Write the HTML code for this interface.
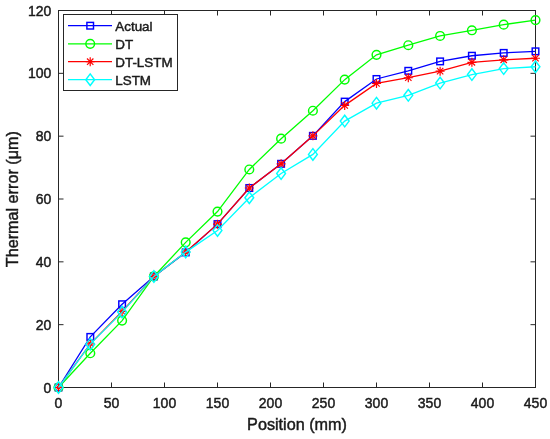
<!DOCTYPE html>
<html><head><meta charset="utf-8"><style>html,body{margin:0;padding:0;background:#fff;}svg{display:block;}</style></head>
<body>
<svg width="550" height="439" viewBox="0 0 550 439">
<rect width="550" height="439" fill="#fff"/>
<path d="M58.50 387.5V382.5M58.50 10.5V15.5M111.50 387.5V382.5M111.50 10.5V15.5M164.50 387.5V382.5M164.50 10.5V15.5M217.50 387.5V382.5M217.50 10.5V15.5M270.50 387.5V382.5M270.50 10.5V15.5M323.50 387.5V382.5M323.50 10.5V15.5M376.50 387.5V382.5M376.50 10.5V15.5M429.50 387.5V382.5M429.50 10.5V15.5M482.50 387.5V382.5M482.50 10.5V15.5M535.50 387.5V382.5M535.50 10.5V15.5M58.5 387.50H63.5M535.5 387.50H530.5M58.5 324.67H63.5M535.5 324.67H530.5M58.5 261.83H63.5M535.5 261.83H530.5M58.5 199.00H63.5M535.5 199.00H530.5M58.5 136.17H63.5M535.5 136.17H530.5M58.5 73.33H63.5M535.5 73.33H530.5M58.5 10.50H63.5M535.5 10.50H530.5" stroke="#262626" stroke-width="1" fill="none"/>
<rect x="58.5" y="10.5" width="477.0" height="377.0" fill="none" stroke="#262626" stroke-width="1"/>
<polyline points="58.50,387.50 90.30,336.92 122.10,304.25 153.90,276.44 185.70,252.41 217.50,224.13 249.30,188.00 281.10,163.81 312.90,135.85 344.70,101.61 376.50,78.99 408.30,70.82 440.10,61.40 471.90,55.74 503.70,52.91 535.50,51.34" fill="none" stroke="#0000ff" stroke-width="1.3"/>
<rect x="55.20" y="384.20" width="6.60" height="6.60" fill="none" stroke="#0000ff" stroke-width="1.45"/>
<rect x="87.00" y="333.62" width="6.60" height="6.60" fill="none" stroke="#0000ff" stroke-width="1.45"/>
<rect x="118.80" y="300.95" width="6.60" height="6.60" fill="none" stroke="#0000ff" stroke-width="1.45"/>
<rect x="150.60" y="273.14" width="6.60" height="6.60" fill="none" stroke="#0000ff" stroke-width="1.45"/>
<rect x="182.40" y="249.11" width="6.60" height="6.60" fill="none" stroke="#0000ff" stroke-width="1.45"/>
<rect x="214.20" y="220.83" width="6.60" height="6.60" fill="none" stroke="#0000ff" stroke-width="1.45"/>
<rect x="246.00" y="184.70" width="6.60" height="6.60" fill="none" stroke="#0000ff" stroke-width="1.45"/>
<rect x="277.80" y="160.51" width="6.60" height="6.60" fill="none" stroke="#0000ff" stroke-width="1.45"/>
<rect x="309.60" y="132.55" width="6.60" height="6.60" fill="none" stroke="#0000ff" stroke-width="1.45"/>
<rect x="341.40" y="98.31" width="6.60" height="6.60" fill="none" stroke="#0000ff" stroke-width="1.45"/>
<rect x="373.20" y="75.69" width="6.60" height="6.60" fill="none" stroke="#0000ff" stroke-width="1.45"/>
<rect x="405.00" y="67.52" width="6.60" height="6.60" fill="none" stroke="#0000ff" stroke-width="1.45"/>
<rect x="436.80" y="58.10" width="6.60" height="6.60" fill="none" stroke="#0000ff" stroke-width="1.45"/>
<rect x="468.60" y="52.44" width="6.60" height="6.60" fill="none" stroke="#0000ff" stroke-width="1.45"/>
<rect x="500.40" y="49.61" width="6.60" height="6.60" fill="none" stroke="#0000ff" stroke-width="1.45"/>
<rect x="532.20" y="48.04" width="6.60" height="6.60" fill="none" stroke="#0000ff" stroke-width="1.45"/>
<polyline points="58.50,387.50 90.30,353.26 122.10,320.58 153.90,276.44 185.70,242.35 217.50,211.57 249.30,169.47 281.10,138.68 312.90,110.72 344.70,79.62 376.50,54.80 408.30,45.22 440.10,35.95 471.90,30.29 503.70,24.64 535.50,20.08" fill="none" stroke="#00ff00" stroke-width="1.3"/>
<circle cx="58.50" cy="387.50" r="4.35" fill="none" stroke="#00ff00" stroke-width="1.45"/>
<circle cx="90.30" cy="353.26" r="4.35" fill="none" stroke="#00ff00" stroke-width="1.45"/>
<circle cx="122.10" cy="320.58" r="4.35" fill="none" stroke="#00ff00" stroke-width="1.45"/>
<circle cx="153.90" cy="276.44" r="4.35" fill="none" stroke="#00ff00" stroke-width="1.45"/>
<circle cx="185.70" cy="242.35" r="4.35" fill="none" stroke="#00ff00" stroke-width="1.45"/>
<circle cx="217.50" cy="211.57" r="4.35" fill="none" stroke="#00ff00" stroke-width="1.45"/>
<circle cx="249.30" cy="169.47" r="4.35" fill="none" stroke="#00ff00" stroke-width="1.45"/>
<circle cx="281.10" cy="138.68" r="4.35" fill="none" stroke="#00ff00" stroke-width="1.45"/>
<circle cx="312.90" cy="110.72" r="4.35" fill="none" stroke="#00ff00" stroke-width="1.45"/>
<circle cx="344.70" cy="79.62" r="4.35" fill="none" stroke="#00ff00" stroke-width="1.45"/>
<circle cx="376.50" cy="54.80" r="4.35" fill="none" stroke="#00ff00" stroke-width="1.45"/>
<circle cx="408.30" cy="45.22" r="4.35" fill="none" stroke="#00ff00" stroke-width="1.45"/>
<circle cx="440.10" cy="35.95" r="4.35" fill="none" stroke="#00ff00" stroke-width="1.45"/>
<circle cx="471.90" cy="30.29" r="4.35" fill="none" stroke="#00ff00" stroke-width="1.45"/>
<circle cx="503.70" cy="24.64" r="4.35" fill="none" stroke="#00ff00" stroke-width="1.45"/>
<circle cx="535.50" cy="20.08" r="4.35" fill="none" stroke="#00ff00" stroke-width="1.45"/>
<polyline points="58.50,387.50 90.30,343.83 122.10,311.47 153.90,276.44 185.70,252.09 217.50,224.13 249.30,188.00 281.10,163.81 312.90,135.85 344.70,105.38 376.50,83.39 408.30,77.73 440.10,71.13 471.90,62.34 503.70,59.82 535.50,58.25" fill="none" stroke="#ff0000" stroke-width="1.3"/>
<path d="M58.50 383.00V392.00M54.00 387.50H63.00M55.30 384.30L61.70 390.70M55.30 390.70L61.70 384.30" fill="none" stroke="#ff0000" stroke-width="1.2"/>
<path d="M90.30 339.33V348.33M85.80 343.83H94.80M87.10 340.63L93.50 347.03M87.10 347.03L93.50 340.63" fill="none" stroke="#ff0000" stroke-width="1.2"/>
<path d="M122.10 306.97V315.97M117.60 311.47H126.60M118.90 308.27L125.30 314.67M118.90 314.67L125.30 308.27" fill="none" stroke="#ff0000" stroke-width="1.2"/>
<path d="M153.90 271.94V280.94M149.40 276.44H158.40M150.70 273.24L157.10 279.64M150.70 279.64L157.10 273.24" fill="none" stroke="#ff0000" stroke-width="1.2"/>
<path d="M185.70 247.59V256.59M181.20 252.09H190.20M182.50 248.89L188.90 255.29M182.50 255.29L188.90 248.89" fill="none" stroke="#ff0000" stroke-width="1.2"/>
<path d="M217.50 219.63V228.63M213.00 224.13H222.00M214.30 220.93L220.70 227.33M214.30 227.33L220.70 220.93" fill="none" stroke="#ff0000" stroke-width="1.2"/>
<path d="M249.30 183.50V192.50M244.80 188.00H253.80M246.10 184.80L252.50 191.20M246.10 191.20L252.50 184.80" fill="none" stroke="#ff0000" stroke-width="1.2"/>
<path d="M281.10 159.31V168.31M276.60 163.81H285.60M277.90 160.61L284.30 167.01M277.90 167.01L284.30 160.61" fill="none" stroke="#ff0000" stroke-width="1.2"/>
<path d="M312.90 131.35V140.35M308.40 135.85H317.40M309.70 132.65L316.10 139.05M309.70 139.05L316.10 132.65" fill="none" stroke="#ff0000" stroke-width="1.2"/>
<path d="M344.70 100.88V109.88M340.20 105.38H349.20M341.50 102.18L347.90 108.58M341.50 108.58L347.90 102.18" fill="none" stroke="#ff0000" stroke-width="1.2"/>
<path d="M376.50 78.89V87.89M372.00 83.39H381.00M373.30 80.19L379.70 86.59M373.30 86.59L379.70 80.19" fill="none" stroke="#ff0000" stroke-width="1.2"/>
<path d="M408.30 73.23V82.23M403.80 77.73H412.80M405.10 74.53L411.50 80.93M405.10 80.93L411.50 74.53" fill="none" stroke="#ff0000" stroke-width="1.2"/>
<path d="M440.10 66.63V75.63M435.60 71.13H444.60M436.90 67.93L443.30 74.33M436.90 74.33L443.30 67.93" fill="none" stroke="#ff0000" stroke-width="1.2"/>
<path d="M471.90 57.84V66.84M467.40 62.34H476.40M468.70 59.14L475.10 65.54M468.70 65.54L475.10 59.14" fill="none" stroke="#ff0000" stroke-width="1.2"/>
<path d="M503.70 55.32V64.32M499.20 59.82H508.20M500.50 56.62L506.90 63.02M500.50 63.02L506.90 56.62" fill="none" stroke="#ff0000" stroke-width="1.2"/>
<path d="M535.50 53.75V62.75M531.00 58.25H540.00M532.30 55.05L538.70 61.45M532.30 61.45L538.70 55.05" fill="none" stroke="#ff0000" stroke-width="1.2"/>
<polyline points="58.50,387.50 90.30,344.14 122.10,312.10 153.90,276.44 185.70,252.09 217.50,230.42 249.30,197.74 281.10,173.55 312.90,154.39 344.70,121.09 376.50,103.18 408.30,95.32 440.10,83.07 471.90,74.59 503.70,68.62 535.50,66.74" fill="none" stroke="#00ffff" stroke-width="1.3"/>
<path d="M58.50 381.70L62.90 387.50L58.50 393.30L54.10 387.50Z" fill="none" stroke="#00ffff" stroke-width="1.45"/>
<path d="M90.30 338.34L94.70 344.14L90.30 349.94L85.90 344.14Z" fill="none" stroke="#00ffff" stroke-width="1.45"/>
<path d="M122.10 306.30L126.50 312.10L122.10 317.90L117.70 312.10Z" fill="none" stroke="#00ffff" stroke-width="1.45"/>
<path d="M153.90 270.64L158.30 276.44L153.90 282.24L149.50 276.44Z" fill="none" stroke="#00ffff" stroke-width="1.45"/>
<path d="M185.70 246.29L190.10 252.09L185.70 257.89L181.30 252.09Z" fill="none" stroke="#00ffff" stroke-width="1.45"/>
<path d="M217.50 224.62L221.90 230.42L217.50 236.22L213.10 230.42Z" fill="none" stroke="#00ffff" stroke-width="1.45"/>
<path d="M249.30 191.94L253.70 197.74L249.30 203.54L244.90 197.74Z" fill="none" stroke="#00ffff" stroke-width="1.45"/>
<path d="M281.10 167.75L285.50 173.55L281.10 179.35L276.70 173.55Z" fill="none" stroke="#00ffff" stroke-width="1.45"/>
<path d="M312.90 148.59L317.30 154.39L312.90 160.19L308.50 154.39Z" fill="none" stroke="#00ffff" stroke-width="1.45"/>
<path d="M344.70 115.29L349.10 121.09L344.70 126.89L340.30 121.09Z" fill="none" stroke="#00ffff" stroke-width="1.45"/>
<path d="M376.50 97.38L380.90 103.18L376.50 108.98L372.10 103.18Z" fill="none" stroke="#00ffff" stroke-width="1.45"/>
<path d="M408.30 89.52L412.70 95.32L408.30 101.12L403.90 95.32Z" fill="none" stroke="#00ffff" stroke-width="1.45"/>
<path d="M440.10 77.27L444.50 83.07L440.10 88.87L435.70 83.07Z" fill="none" stroke="#00ffff" stroke-width="1.45"/>
<path d="M471.90 68.79L476.30 74.59L471.90 80.39L467.50 74.59Z" fill="none" stroke="#00ffff" stroke-width="1.45"/>
<path d="M503.70 62.82L508.10 68.62L503.70 74.42L499.30 68.62Z" fill="none" stroke="#00ffff" stroke-width="1.45"/>
<path d="M535.50 60.94L539.90 66.74L535.50 72.54L531.10 66.74Z" fill="none" stroke="#00ffff" stroke-width="1.45"/>
<g font-family="Liberation Sans, Arial, sans-serif" font-size="14" fill="#1a1a1a" stroke="#1a1a1a" stroke-width="0.45"><text x="58.50" y="408" text-anchor="middle">0</text><text x="111.50" y="408" text-anchor="middle">50</text><text x="164.50" y="408" text-anchor="middle">100</text><text x="217.50" y="408" text-anchor="middle">150</text><text x="270.50" y="408" text-anchor="middle">200</text><text x="323.50" y="408" text-anchor="middle">250</text><text x="376.50" y="408" text-anchor="middle">300</text><text x="429.50" y="408" text-anchor="middle">350</text><text x="482.50" y="408" text-anchor="middle">400</text><text x="535.50" y="408" text-anchor="middle">450</text><text x="51.3" y="392.50" text-anchor="end">0</text><text x="51.3" y="329.67" text-anchor="end">20</text><text x="51.3" y="266.83" text-anchor="end">40</text><text x="51.3" y="204.00" text-anchor="end">60</text><text x="51.3" y="141.17" text-anchor="end">80</text><text x="51.3" y="78.33" text-anchor="end">100</text><text x="51.3" y="15.50" text-anchor="end">120</text></g>
<text x="297" y="429.5" text-anchor="middle" font-family="Liberation Sans, Arial, sans-serif" font-size="16.2" fill="#1a1a1a" stroke="#1a1a1a" stroke-width="0.45">Position (mm)</text>
<text transform="translate(18 199.2) rotate(-90)" text-anchor="middle" font-family="Liberation Sans, Arial, sans-serif" font-size="16.2" fill="#1a1a1a" stroke="#1a1a1a" stroke-width="0.45">Thermal error (μm)</text>
<rect x="63.5" y="14.5" width="114.0" height="76.0" fill="#fff" stroke="#262626" stroke-width="1"/>
<path d="M68 25.7H112" stroke="#0000ff" stroke-width="1.3"/>
<rect x="86.90" y="22.40" width="6.60" height="6.60" fill="none" stroke="#0000ff" stroke-width="1.45"/>
<text x="115.3" y="30.70" font-family="Liberation Sans, Arial, sans-serif" font-size="13.4" fill="#1a1a1a" stroke="#1a1a1a" stroke-width="0.45">Actual</text>
<path d="M68 43.8H112" stroke="#00ff00" stroke-width="1.3"/>
<circle cx="90.20" cy="43.80" r="4.35" fill="none" stroke="#00ff00" stroke-width="1.45"/>
<text x="115.3" y="48.80" font-family="Liberation Sans, Arial, sans-serif" font-size="13.4" fill="#1a1a1a" stroke="#1a1a1a" stroke-width="0.45">DT</text>
<path d="M68 61.7H112" stroke="#ff0000" stroke-width="1.3"/>
<path d="M90.20 57.20V66.20M85.70 61.70H94.70M87.00 58.50L93.40 64.90M87.00 64.90L93.40 58.50" fill="none" stroke="#ff0000" stroke-width="1.2"/>
<text x="115.3" y="66.70" font-family="Liberation Sans, Arial, sans-serif" font-size="13.4" fill="#1a1a1a" stroke="#1a1a1a" stroke-width="0.45">DT-LSTM</text>
<path d="M68 79.7H112" stroke="#00ffff" stroke-width="1.3"/>
<path d="M90.20 73.90L94.60 79.70L90.20 85.50L85.80 79.70Z" fill="none" stroke="#00ffff" stroke-width="1.45"/>
<text x="115.3" y="84.70" font-family="Liberation Sans, Arial, sans-serif" font-size="13.4" fill="#1a1a1a" stroke="#1a1a1a" stroke-width="0.45">LSTM</text>
</svg>
</body></html>
